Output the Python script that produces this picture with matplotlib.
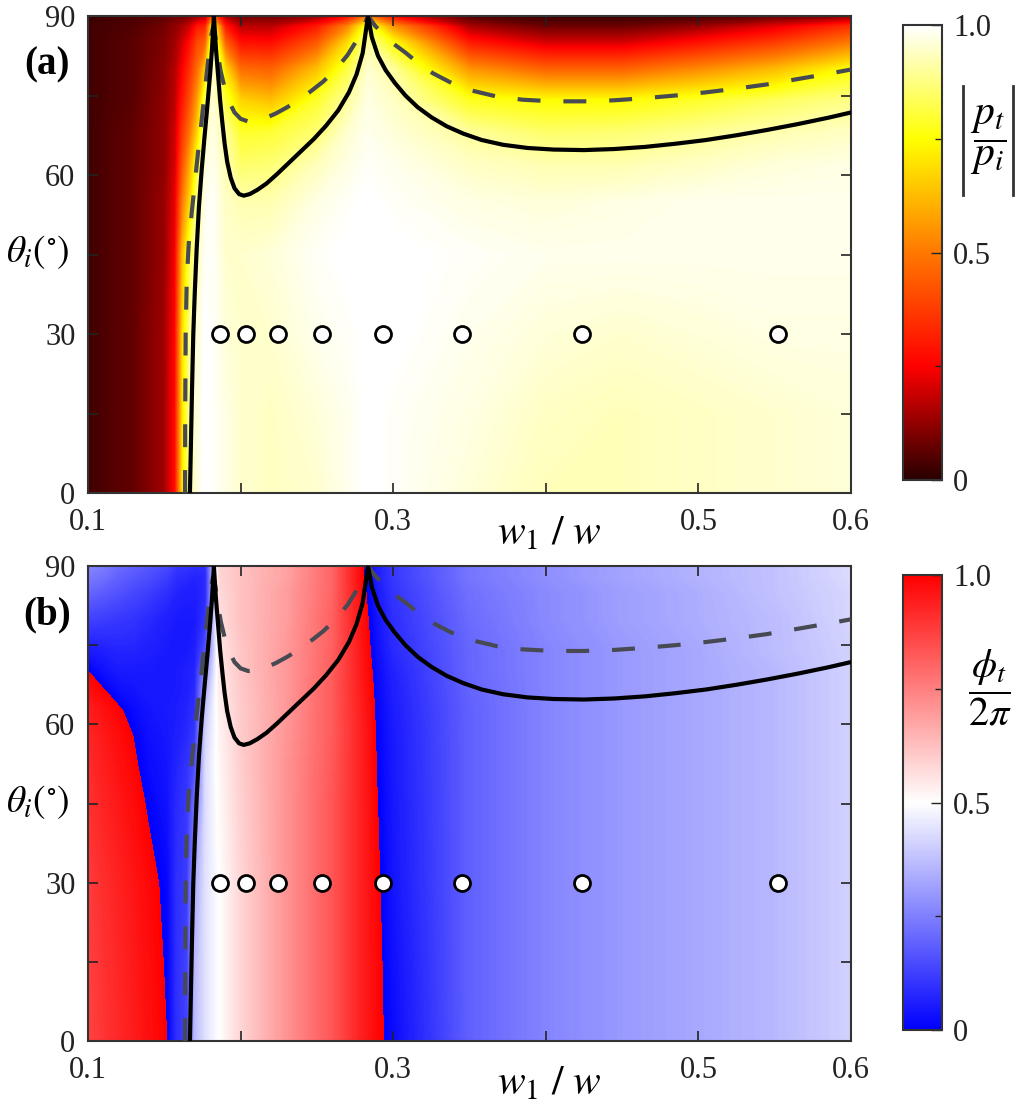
import numpy as np
import matplotlib
matplotlib.use("Agg")
import matplotlib.pyplot as plt
from matplotlib.colors import LinearSegmentedColormap, ListedColormap, Normalize
from matplotlib.cm import ScalarMappable
from matplotlib.ticker import FixedLocator
from matplotlib.lines import Line2D

plt.rcParams["font.family"] = "serif"
plt.rcParams["font.serif"] = ["Liberation Serif", "DejaVu Serif"]
plt.rcParams["mathtext.fontset"] = "stix"

# --------------------------------------------
# Data
# --------------------------------------------
amp_t = [0, 15, 30, 45, 55, 62, 68, 74, 80, 85, 88, 90]

# |p_t / p_i| : one list per w1/w node, values along amp_t
amp_x = [0.10, 0.13, 0.15, 0.157, 0.162, 0.167, 0.172, 0.177, 0.182, 0.19, 0.20,
         0.22, 0.25, 0.27, 0.2835, 0.30, 0.35, 0.40, 0.45, 0.50, 0.55, 0.60]
amp_cols = [
    [0.03, 0.03, 0.03, 0.03, 0.03, 0.03, 0.03, 0.03, 0.03, 0.03, 0.03, 0.02],
    [0.07, 0.07, 0.07, 0.07, 0.07, 0.07, 0.07, 0.06, 0.06, 0.06, 0.05, 0.04],
    [0.14, 0.14, 0.14, 0.13, 0.13, 0.12, 0.12, 0.12, 0.11, 0.10, 0.09, 0.06],
    [0.27, 0.27, 0.26, 0.24, 0.22, 0.20, 0.19, 0.17, 0.16, 0.14, 0.12, 0.08],
    [0.70, 0.70, 0.68, 0.62, 0.50, 0.42, 0.36, 0.30, 0.25, 0.20, 0.15, 0.08],
    [0.91, 0.91, 0.90, 0.83, 0.68, 0.60, 0.50, 0.42, 0.35, 0.28, 0.20, 0.10],
    [0.97, 0.97, 0.96, 0.93, 0.90, 0.80, 0.68, 0.58, 0.48, 0.40, 0.30, 0.12],
    [1.00, 1.00, 1.00, 0.99, 0.98, 0.96, 0.93, 0.84, 0.66, 0.45, 0.32, 0.15],
    [0.99, 0.99, 0.99, 0.99, 0.99, 0.98, 0.97, 0.96, 0.94, 0.90, 0.78, 0.45],
    [0.97, 0.97, 0.96, 0.95, 0.94, 0.92, 0.90, 0.80, 0.68, 0.45, 0.30, 0.15],
    [0.95, 0.95, 0.95, 0.95, 0.92, 0.85, 0.79, 0.67, 0.47, 0.28, 0.17, 0.08],
    [0.94, 0.94, 0.95, 0.96, 0.92, 0.86, 0.80, 0.63, 0.45, 0.27, 0.17, 0.08],
    [0.95, 0.96, 0.98, 0.99, 0.97, 0.93, 0.86, 0.79, 0.63, 0.43, 0.30, 0.12],
    [0.98, 0.98, 0.99, 1.00, 0.99, 0.97, 0.95, 0.90, 0.81, 0.68, 0.52, 0.25],
    [1.00, 1.00, 1.00, 1.00, 1.00, 0.99, 0.98, 0.97, 0.95, 0.90, 0.80, 0.50],
    [0.99, 0.99, 1.00, 1.00, 0.99, 0.98, 0.96, 0.94, 0.90, 0.75, 0.55, 0.25],
    [0.96, 0.97, 0.98, 0.99, 0.97, 0.94, 0.90, 0.78, 0.55, 0.30, 0.15, 0.04],
    [0.93, 0.94, 0.96, 0.98, 0.96, 0.92, 0.85, 0.75, 0.45, 0.20, 0.08, 0.02],
    [0.93, 0.93, 0.95, 0.98, 0.97, 0.92, 0.86, 0.75, 0.45, 0.20, 0.08, 0.02],
    [0.94, 0.94, 0.96, 0.98, 0.98, 0.94, 0.89, 0.79, 0.53, 0.28, 0.13, 0.03],
    [0.95, 0.95, 0.97, 0.98, 0.98, 0.96, 0.92, 0.84, 0.62, 0.37, 0.22, 0.06],
    [0.96, 0.96, 0.97, 0.98, 0.98, 0.97, 0.94, 0.88, 0.75, 0.50, 0.35, 0.10],
]

# phi_t / 2pi, unwrapped (shown modulo 1): one list per w1/w node
phase_t = [0, 15, 30, 45, 52, 58, 63, 67, 70, 74, 80, 85, 88, 90]
phase_x = [0.10, 0.11, 0.12, 0.13, 0.14, 0.152, 0.158, 0.165, 0.17, 0.177, 0.186,
           0.20, 0.23, 0.26, 0.28, 0.29, 0.30, 0.35, 0.40, 0.45, 0.50, 0.55, 0.60]
phase_cols = [
    [0.870, 0.875, 0.883, 0.903, 0.914, 0.925, 0.941, 0.972, 0.995, 1.05, 1.13, 1.20, 1.24, 1.27],
    [0.895, 0.900, 0.908, 0.928, 0.939, 0.950, 0.966, 0.998, 1.03, 1.06, 1.12, 1.18, 1.22, 1.24],
    [0.920, 0.925, 0.933, 0.953, 0.964, 0.975, 0.991, 1.03, 1.05, 1.07, 1.11, 1.16, 1.19, 1.21],
    [0.945, 0.950, 0.958, 0.978, 0.989, 1.000, 1.02, 1.04, 1.05, 1.07, 1.10, 1.14, 1.17, 1.19],
    [0.970, 0.975, 0.983, 1.005, 1.02, 1.03, 1.04, 1.05, 1.05, 1.06, 1.08, 1.12, 1.15, 1.17],
    [0.999, 1.005, 1.012, 1.035, 1.04, 1.045, 1.05, 1.05, 1.05, 1.05, 1.06, 1.09, 1.12, 1.14],
    [1.09, 1.09, 1.09, 1.08, 1.07, 1.06, 1.055, 1.05, 1.05, 1.05, 1.05, 1.07, 1.09, 1.11],
    [1.13, 1.13, 1.12, 1.11, 1.10, 1.08, 1.07, 1.06, 1.06, 1.05, 1.05, 1.06, 1.08, 1.10],
    [1.36, 1.36, 1.33, 1.22, 1.15, 1.11, 1.09, 1.08, 1.07, 1.06, 1.05, 1.06, 1.07, 1.09],
    [1.44, 1.44, 1.44, 1.43, 1.43, 1.41, 1.38, 1.33, 1.27, 1.16, 1.10, 1.08, 1.08, 1.09],
    [1.50, 1.50, 1.50, 1.51, 1.515, 1.52, 1.53, 1.535, 1.54, 1.55, 1.56, 1.57, 1.58, 1.58],
    [1.58, 1.58, 1.58, 1.59, 1.595, 1.60, 1.60, 1.605, 1.61, 1.61, 1.62, 1.62, 1.62, 1.62],
    [1.71, 1.71, 1.71, 1.71, 1.71, 1.705, 1.70, 1.70, 1.70, 1.70, 1.69, 1.69, 1.68, 1.68],
    [1.83, 1.83, 1.83, 1.83, 1.825, 1.82, 1.82, 1.82, 1.815, 1.81, 1.81, 1.80, 1.80, 1.80],
    [1.94, 1.94, 1.94, 1.94, 1.94, 1.94, 1.945, 1.95, 1.955, 1.96, 1.97, 1.98, 1.99, 1.99],
    [1.985, 1.985, 1.99, 1.998, 2.002, 2.006, 2.01, 2.015, 2.02, 2.03, 2.04, 2.05, 2.06, 2.06],
    [2.02, 2.03, 2.04, 2.045, 2.048, 2.05, 2.055, 2.06, 2.065, 2.08, 2.09, 2.10, 2.11, 2.11],
    [2.19, 2.19, 2.19, 2.19, 2.19, 2.19, 2.19, 2.195, 2.20, 2.20, 2.21, 2.22, 2.23, 2.23],
    [2.26, 2.26, 2.26, 2.26, 2.26, 2.26, 2.26, 2.26, 2.26, 2.26, 2.27, 2.27, 2.28, 2.28],
    [2.30, 2.30, 2.30, 2.30, 2.30, 2.30, 2.30, 2.30, 2.30, 2.30, 2.31, 2.31, 2.32, 2.32],
    [2.33, 2.33, 2.33, 2.33, 2.33, 2.33, 2.33, 2.33, 2.33, 2.33, 2.34, 2.34, 2.35, 2.35],
    [2.36, 2.36, 2.36, 2.36, 2.36, 2.36, 2.36, 2.36, 2.36, 2.37, 2.37, 2.38, 2.38, 2.38],
    [2.41, 2.41, 2.41, 2.41, 2.41, 2.41, 2.41, 2.41, 2.41, 2.41, 2.42, 2.42, 2.43, 2.43],
]

# solid black curve
solid_x = [0.1668, 0.1675, 0.1682, 0.1690, 0.1700, 0.1712, 0.1727, 0.1745, 0.1763,
           0.1782, 0.1800, 0.1813, 0.1825,
           0.1838, 0.1852, 0.1866, 0.1880, 0.1895, 0.1912, 0.1935, 0.1960, 0.1990,
           0.2020, 0.2060, 0.2110, 0.2170, 0.2240, 0.2320, 0.2400, 0.2480, 0.2560,
           0.2640, 0.2710, 0.2760, 0.2800, 0.2835,
           0.2860, 0.2900, 0.2950, 0.3010, 0.3080, 0.3160, 0.3250, 0.3350, 0.3460,
           0.3580, 0.3720, 0.3880, 0.4050, 0.4250, 0.4450, 0.4650, 0.4850, 0.5050,
           0.5250, 0.5450, 0.5650, 0.5850, 0.6000]
solid_t = [0, 10, 20, 30, 38, 46, 54, 61, 67,
           73, 79, 84, 90,
           84, 79, 74, 70, 66, 62.5, 59.5, 57.5, 56.4,
           56.1, 56.4, 57.2, 58.4, 60.2, 62.4, 64.6, 66.8, 69.3,
           72.2, 75.6, 79, 83, 90,
           86, 82.5, 79.8, 77.4, 75, 72.8, 70.9, 69.2, 67.8,
           66.6, 65.7, 65.1, 64.8, 64.7, 64.9, 65.3, 65.9, 66.6,
           67.5, 68.5, 69.6, 70.8, 71.8]

# dashed grey curve
dash_x = [0.1636, 0.1637, 0.1640, 0.1647, 0.1660, 0.1680, 0.1700, 0.1720, 0.1740,
          0.1762, 0.1785, 0.1805, 0.1820, 0.1835, 0.1850, 0.1870, 0.1895, 0.1925,
          0.1960, 0.2000, 0.2050, 0.2100, 0.2160, 0.2230, 0.2300, 0.2380, 0.2460,
          0.2540, 0.2620, 0.2700, 0.2770, 0.2835, 0.2880, 0.2940, 0.3000, 0.3080,
          0.3160, 0.3260, 0.3380, 0.3520, 0.3680, 0.3850, 0.4050, 0.4250, 0.4450,
          0.4650, 0.4850, 0.5050, 0.5250, 0.5450, 0.5650, 0.5850, 0.6000]
dash_t = [0, 15, 30, 40, 47, 53, 58.5, 64, 69,
          75, 81, 86, 88, 86, 83, 79.5, 76.5, 73.8,
          71.8, 70.6, 70.1, 70.2, 70.7, 71.6, 72.7, 74.1, 75.8,
          77.6, 79.8, 82.6, 85.8, 90, 88.2, 86.4, 84.8, 83.1,
          81.2, 79.2, 77.4, 75.9, 74.8, 74.2, 73.9, 73.9, 74.1,
          74.5, 75.0, 75.6, 76.3, 77.1, 78.1, 79.1, 79.9]

# marked structures at 30 deg
circle_x = [0.1865, 0.2035, 0.2245, 0.2533, 0.2933, 0.3451, 0.4237, 0.5522]
circle_t = [30, 30, 30, 30, 30, 30, 30, 30]

xtick_vals = [0.1, 0.2, 0.3, 0.4, 0.5, 0.6]
xtick_text = ["0.1", "", "0.3", "", "0.5", "0.6"]
ytick_vals = [0, 15, 30, 45, 60, 75, 90]
ytick_text = ["0", "", "30", "", "60", "", "90"]

# --------------------------------------------
# Colour maps
# --------------------------------------------
amp_cmap = LinearSegmentedColormap.from_list(
    "amp", [(0.0, (0.16, 0.0, 0.0)), (0.25, (1.0, 0.0, 0.0)),
            (0.5, (1.0, 0.47, 0.0)), (0.75, (1.0, 1.0, 0.0)),
            (1.0, (1.0, 1.0, 1.0))])
bwr = plt.get_cmap("bwr")
# repeat bwr so the unwrapped phase shows its 2pi jumps
phase_cmap = ListedColormap(np.tile(bwr(np.linspace(0, 1, 512)), (3, 1)))

# --------------------------------------------
# Figure
# --------------------------------------------
W, H = 1020, 1105
fig = plt.figure(figsize=(W / 100, H / 100), dpi=100)


def px_axes(x0, y0, x1, y1):
    return fig.add_axes([x0 / W, 1 - y1 / H, (x1 - x0) / W, (y1 - y0) / H])


def style_axes(ax):
    ax.set_xlim(0.1, 0.6)
    ax.set_ylim(0, 90)
    ax.set_xticks(xtick_vals)
    ax.set_xticklabels(xtick_text)
    ax.set_yticks(ytick_vals)
    ax.set_yticklabels(ytick_text)
    ax.tick_params(direction="in", top=True, right=True, length=7, width=1.2,
                   labelsize=22, colors="#222222")
    ax.tick_params(axis="x", pad=11)
    ax.tick_params(axis="y", pad=9)
    for s in ax.spines.values():
        s.set_linewidth(1.5)
        s.set_color("#333333")


def draw_curves(ax):
    ax.plot(dash_x, dash_t, color="#474a52", lw=3.0, dashes=(5.5, 5.5), zorder=3)
    ax.plot(solid_x, solid_t, color="black", lw=3.0, zorder=4)
    ax.plot(circle_x, circle_t, "o", ms=11.5, mfc="white", mec="black",
            mew=2.0, zorder=5)


def style_cbar(cax, sm):
    cb = fig.colorbar(sm, cax=cax, ticks=[0, 0.5, 1.0])
    cb.ax.set_yticklabels(["0", "0.5", "1.0"])
    cb.ax.yaxis.set_minor_locator(FixedLocator([0.25, 0.75]))
    cb.ax.tick_params(which="both", direction="in", labelsize=22, width=1.0,
                      colors="#222222", pad=8)
    cb.ax.tick_params(which="major", length=8)
    cb.ax.tick_params(which="minor", length=5)
    cb.outline.set_linewidth(1.5)
    cb.outline.set_edgecolor("#333333")
    return cb


# ---------------- panel (a) ----------------
ax1 = px_axes(88, 16, 851, 493)
amp = np.array(amp_cols).T
ax1.contourf(amp_x, amp_t, amp, levels=np.linspace(0, 1, 401),
             cmap=amp_cmap, norm=Normalize(0, 1), extend="both")
draw_curves(ax1)
style_axes(ax1)

cax1 = px_axes(903, 25, 942, 480)
style_cbar(cax1, ScalarMappable(norm=Normalize(0, 1), cmap=amp_cmap))

# ---------------- panel (b) ----------------
ax2 = px_axes(88, 566, 851, 1041)
phase = np.array(phase_cols).T
ax2.contourf(phase_x, phase_t, phase, levels=np.linspace(0, 3, 1201),
             cmap=phase_cmap, norm=Normalize(0, 3))
draw_curves(ax2)
style_axes(ax2)

cax2 = px_axes(903, 575, 942, 1030)
style_cbar(cax2, ScalarMappable(norm=Normalize(0, 1), cmap=bwr))

# ---------------- labels ----------------
for dy, tag in [(0, "(a)"), (550, "(b)")]:
    fig.text(47 / W, 1 - (65 + dy) / H, tag, fontsize=28, fontweight="bold",
             ha="center", va="center")
    fig.text(38 / W, 1 - (252 + dy) / H, r"$\theta_i(^{\circ})$", fontsize=27,
             ha="center", va="center")
    fig.text(549 / W, 1 - (534 + dy) / H, r"$w_1\ /\ w$", fontsize=30,
             ha="center", va="center")

# |p_t / p_i| with thin bars either side
fig.text(988 / W, 1 - 140 / H, r"$\dfrac{p_t}{p_i}$", fontsize=30,
         ha="center", va="center")
for bx in (963, 1013):
    fig.add_artist(Line2D([bx / W, bx / W], [1 - 86 / H, 1 - 195 / H],
                          transform=fig.transFigure, lw=2.0, color="#333333"))
fig.text(990 / W, 1 - 688 / H, r"$\dfrac{\phi_t}{2\pi}$", fontsize=29,
         ha="center", va="center")

fig.savefig("out.png", dpi=100)
